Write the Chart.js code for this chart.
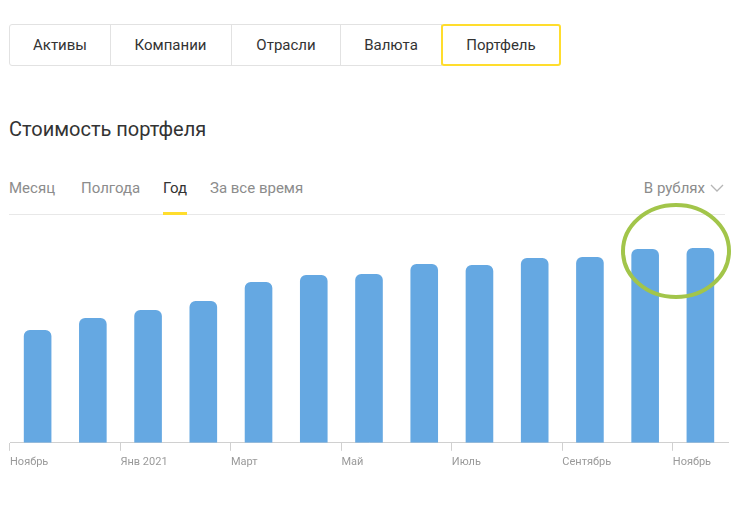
<!DOCTYPE html>
<html lang="ru">
<head>
<meta charset="utf-8">
<title>Стоимость портфеля</title>
<script src="https://cdn.jsdelivr.net/npm/chart.js@4/dist/chart.umd.min.js"></script>
<style>
	html, body { margin: 0; padding: 0; background: #fff; }
	body { width: 751px; height: 522px; position: relative; font-family: Roboto, 'Noto Sans', sans-serif; color: #333; overflow: hidden; }
	.tabs { position: absolute; left: 9px; top: 24px; width: 552px; height: 42px; }
	.tab { position: absolute; top: 0; height: 40px; line-height: 40px; text-align: center; font-size: 15px; color: #333;
		border: 1px solid #e2e2e2; border-left: none; box-sizing: content-box; }
	.tab.first { border-left: 1px solid #e2e2e2; border-radius: 3px 0 0 3px; }
	.tab.active { border: 2px solid #ffdd2d; height: 38px; line-height: 38px; border-radius: 3px; top: 0; }
	h1 { position: absolute; left: 9px; top: 117px; margin: 0; font-size: 20px; line-height: 24px; font-weight: 400; color: #333; }
	.period { position: absolute; top: 178px; font-size: 15px; line-height: 20px; color: #8c8c8c; }
	.period.on { color: #333; }
	.underline { position: absolute; left: 163px; top: 212px; width: 24px; height: 3px; background: #ffdd2d; }
	.sep { position: absolute; left: 9px; top: 214px; width: 716px; height: 1px; background: #e8e8e8; }
	.currency { position: absolute; right: 46px; top: 178px; font-size: 15px; line-height: 20px; color: #8c8c8c; }
	.chev { position: absolute; left: 710px; top: 184px; }
	#wrap { position: absolute; left: 0; top: 220px; width: 740px; height: 254px; }
	#mark { position: absolute; left: 0; top: 0; pointer-events: none; }
</style>
</head>
<body>

<div class="tabs">
	<div class="tab first" style="left:0;width:100px">Активы</div>
	<div class="tab" style="left:101px;width:121px">Компании</div>
	<div class="tab" style="left:223px;width:108px">Отрасли</div>
	<div class="tab" style="left:332px;width:100px">Валюта</div>
	<div class="tab active" style="left:432px;width:116px">Портфель</div>
</div>

<h1>Стоимость портфеля</h1>

<div class="period" style="left:9px">Месяц</div>
<div class="period" style="left:81px">Полгода</div>
<div class="period on" style="left:163px">Год</div>
<div class="period" style="left:210px">За все время</div>
<div class="currency">В рублях</div>
<svg class="chev" width="14" height="9"><polyline points="1,1 7,7 13,1" fill="none" stroke="#b5b5b5" stroke-width="1.3"/></svg>
<div class="sep"></div>
<div class="underline"></div>

<div id="wrap"><canvas id="canvas"></canvas></div>

<svg id="mark" width="751" height="522">
	<ellipse cx="676" cy="251" rx="53" ry="46" fill="none" stroke="#a2c54a" stroke-width="4"/>
</svg>

<script>
'use strict';

// месяцы, ноябрь 2020 - ноябрь 2021
var months = ['Ноябрь', 'Декабрь', 'Янв 2021', 'Февраль', 'Март', 'Апрель', 'Май',
	'Июнь', 'Июль', 'Август', 'Сентябрь', 'Октябрь', 'Ноябрь'];

// стоимость портфеля, условные единицы (оси значений на картинке нет)
var portfolioValues = [113, 125, 133, 142, 161, 168, 169, 179, 178, 185, 186, 194, 195];

var valueMax = 223;

function drawChart() {
	var config = {
		type: 'bar',
		data: {
			labels: months,
			datasets: [{
				label: 'Стоимость',
				data: portfolioValues,
				backgroundColor: '#65a8e2',
				borderRadius: 6,
				borderSkipped: 'start',
				barPercentage: 0.5,
				categoryPercentage: 1
			}]
		},
		options: {
			responsive: true,
			maintainAspectRatio: false,
			animation: false,
			layout: { padding: { left: 10, right: 12, top: 0, bottom: 0 } },
			plugins: {
				legend: { display: false },
				tooltip: { enabled: false }
			},
			scales: {
				x: {
					offset: true,
					// подписи сдвинуты влево, лишний отступ справа не нужен
					afterFit: function (scale) {
						scale.paddingLeft = 0;
						scale.paddingRight = 0;
					},
					border: { display: true, color: '#d0d0d0', width: 1 },
					grid: {
						offset: true,
						drawOnChartArea: false,
						drawTicks: true,
						tickLength: 8,
						color: function (ctx) {
							return ctx.index % 2 === 0 ? '#d0d0d0' : 'rgba(0,0,0,0)';
						}
					},
					ticks: {
						autoSkip: false,
						maxRotation: 0,
						align: 'start',
						labelOffset: -27.6,
						padding: 5,
						color: '#9a9a9a',
						font: { family: 'Roboto', size: 11 },
						callback: function (value, index) {
							return index % 2 === 0 ? months[index] : '';
						}
					}
				},
				y: {
					display: false,
					min: 0,
					max: valueMax
				}
			}
		}
	};

	var ctx = document.getElementById('canvas').getContext('2d');
	window.mychart = new Chart(ctx, config);
}

drawChart();
</script>
</body>
</html>
